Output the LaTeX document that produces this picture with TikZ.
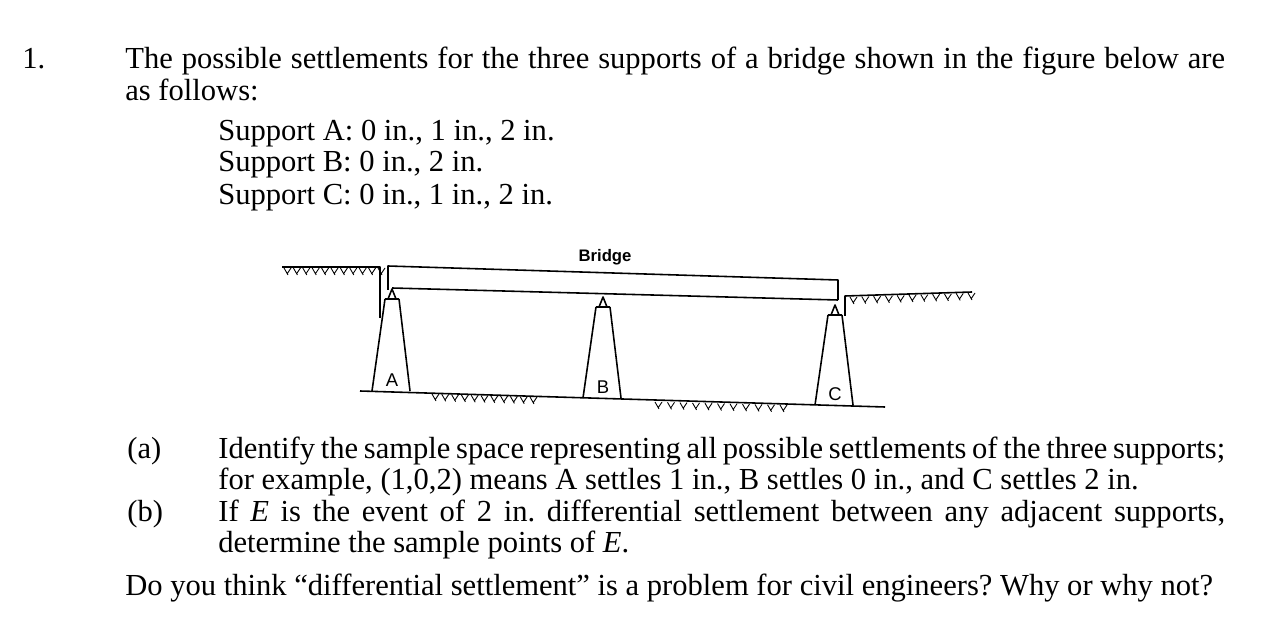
\documentclass[tikz,border=0pt]{standalone}
\usepackage{fontspec}
\setmainfont{Liberation Serif}
\newfontfamily\lblfont{Liberation Sans}
\frenchspacing
\begin{document}
\begin{tikzpicture}[x=0.02cm,y=-0.02cm,
  txt/.style={anchor=base west,inner sep=0pt,font=\fontsize{17.4}{20}\selectfont},
  lbl/.style={inner sep=0pt,font=\lblfont\bfseries\fontsize{9.5}{11}\selectfont},
  ln/.style={line width=0.9pt,line join=round},
  hatch/.style={line width=0.5pt}]
\useasboundingbox (0,0) rectangle (1280,624);
% text
\node[txt] (n1) at (22,69) {1.};
\node[txt] (l1) at (125,69) {\makebox[22cm][s]{The possible settlements for the three supports of a bridge shown in the figure below are}};
\node[txt] (l2) at (125,101) {as follows:};
\node[txt] (sa) at (218,141) {Support A: 0 in., 1 in., 2 in.};
\node[txt] (sb) at (218,172) {Support B: 0 in., 2 in.};
\node[txt] (sc) at (218,205) {Support C: 0 in., 1 in., 2 in.};
\node[txt] (pa) at (127,458) {(a)};
\node[txt] (a1) at (218,458) {\makebox[20.14cm][s]{Identify the sample space representing all possible settlements of the three supports;}};
\node[txt] (a2) at (218,489) {for example, (1,0,2) means A settles 1 in., B settles 0 in., and C settles 2 in.};
\node[txt] (pb) at (127,521) {(b)};
\node[txt] (b1) at (218,521) {\makebox[20.14cm][s]{If \textit{E} is the event of 2 in. differential settlement between any adjacent supports,}};
\node[txt] (b2) at (218,552) {determine the sample points of \textit{E}.};
\node[txt] (q) at (125,595) {Do you think ``differential settlement'' is a problem for civil engineers? Why or why not?};
% figure
\node[lbl] (br) at (605,257) {Bridge};
\draw[ln] (282,267) -- (380,267) -- (380,318);
\draw[ln] (845,316) -- (845,296) -- (972,292);
\draw[ln] (388,290) -- (388,266) -- (838,280) -- (838,300);
\draw[ln] (392,288) -- (838,300);
\foreach \nm/\x/\y/\yb in {A/392/289/391, B/603/297/398, C/835/305/405}{
  \draw[ln] (\x-4,\y+10) -- (\x,\y) -- (\x+4,\y+10) -- cycle;
  \draw[ln] (\x-7,\y+10) -- (\x-20,\yb) (\x+7,\y+10) -- (\x+18,\yb);
  \draw[ln] (\x-7,\y+10) -- (\x+7,\y+10);
  \node[lbl,font=\lblfont\fontsize{10.5}{11}\selectfont] (s\nm) at (\x,\yb-11) {\nm};
}
\draw[ln] (360,391) -- (885,407);
\foreach \a/\b/\ya/\yb in {284/378/267/267, 850/968/296/292, 432/530/393/396, 655/780/401/404}{
  \foreach \i in {0,...,10}{
    \pgfmathsetmacro\xx{\a+(\b-\a)*\i/10}
    \pgfmathsetmacro\yy{\ya+(\yb-\ya)*\i/10}
    \draw[hatch] (\xx,\yy+1) -- (\xx+4,\yy+8) (\xx+7,\yy+1) -- (\xx+3,\yy+7);
  }
}
\end{tikzpicture}
\end{document}
